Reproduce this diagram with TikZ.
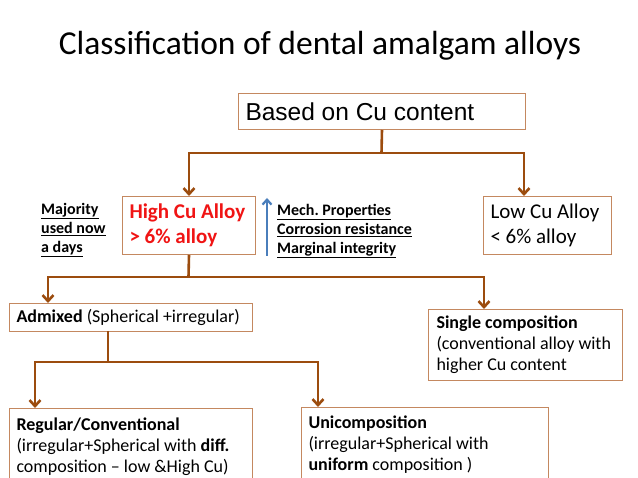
\documentclass[tikz,border=0pt]{standalone}
\usepackage{fontspec}
\setmainfont{Carlito}
\newfontfamily\arialf{Liberation Sans}
\usetikzlibrary{arrows.meta}
\definecolor{conn}{RGB}{156,76,14}
\definecolor{boxc}{RGB}{196,136,96}
\definecolor{bluea}{RGB}{74,126,187}
\definecolor{redt}{RGB}{240,20,20}
\frenchspacing
\begin{document}
\begin{tikzpicture}[x=1pt,y=-1pt,
  box/.style={draw=boxc, line width=1pt, inner xsep=7pt, align=flush left, anchor=north west},
  lowfont/.style={font=\fontsize{18}{21}\selectfont},
  lab/.style={font=\bfseries\fontsize{16}{19}\selectfont, align=flush left, inner sep=0pt, anchor=west},
  link/.style={draw=conn, line width=2.6pt},
  arr/.style={link, -{Straight Barb[length=6pt,width=11pt,line width=2.6pt]}},
  barr/.style={draw=bluea, line width=2.2pt, -{Straight Barb[length=5pt,width=9pt,line width=2.2pt]}}
]
\useasboundingbox[fill=white] (0,0) rectangle (638,478);

\node[font=\fontsize{33.5}{40}\selectfont, anchor=base] (title) at (320,55) {Classification of dental amalgam alloys};

\node[box, text width=273pt, minimum height=36pt, font=\arialf\fontsize{24.5}{28}\selectfont] (based) at (238,93) {Based on Cu content};

\node[box, text width=119pt, minimum height=58pt, font=\bfseries\fontsize{21}{25}\selectfont, text=redt] (high) at (122,196) {High Cu Alloy\\> 6\% alloy};
\node[box, text width=114pt, minimum height=58pt, font=\fontsize{21}{25}\selectfont] (low) at (483,196) {Low Cu Alloy\\< 6\% alloy};

\node[lab] (maj) at (41,230) {\underline{Majority}\\\underline{used now}\\\underline{a days}};
\node[lab] (mech) at (277,231) {\underline{Mech. Properties}\\\underline{Corrosion resistance}\\\underline{Marginal integrity}};
\coordinate (ba1) at (267,256);
\coordinate (ba2) at (267,198);
\draw[barr] (ba1) -- (ba2);

\node[box, lowfont, text width=229pt, minimum height=28pt] (adm) at (9,303) {\textbf{Admixed} (Spherical +irregular)};
\node[box, lowfont, inner xsep=8pt, text width=178pt, minimum height=71pt] (single) at (428,309) {\textbf{Single composition}\\(conventional alloy with\\higher Cu content};
\node[box, lowfont, inner ysep=9pt, text width=229pt] (reg) at (9,408) {\textbf{Regular/Conventional}\\(irregular+Spherical with \textbf{diff.}\\composition – low \&High Cu)};
\node[box, lowfont, inner ysep=8pt, text width=233pt] (uni) at (301,407) {\textbf{Unicomposition}\\(irregular+Spherical with\\\textbf{uniform} composition )};

\coordinate (j1) at (381.5,153);
\coordinate (lowtop) at (524,196);
\draw[link] (based.south) -- (j1);
\draw[arr] (j1) -| (high.north);
\draw[arr] (j1) -| (lowtop);

\coordinate (j2) at (188.5,277);
\coordinate (admtop) at (48,303);
\coordinate (sintop) at (484,309);
\draw[link] (high.south) -- (j2);
\draw[arr] (j2) -| (admtop);
\draw[arr] (j2) -| (sintop);

\coordinate (admbot) at (108,331);
\coordinate (j3) at (108,362);
\coordinate (regtop) at (35,408);
\coordinate (unitop) at (318,407);
\draw[link] (admbot) -- (j3);
\draw[arr] (j3) -| (regtop);
\draw[arr] (j3) -| (unitop);
\end{tikzpicture}
\end{document}
